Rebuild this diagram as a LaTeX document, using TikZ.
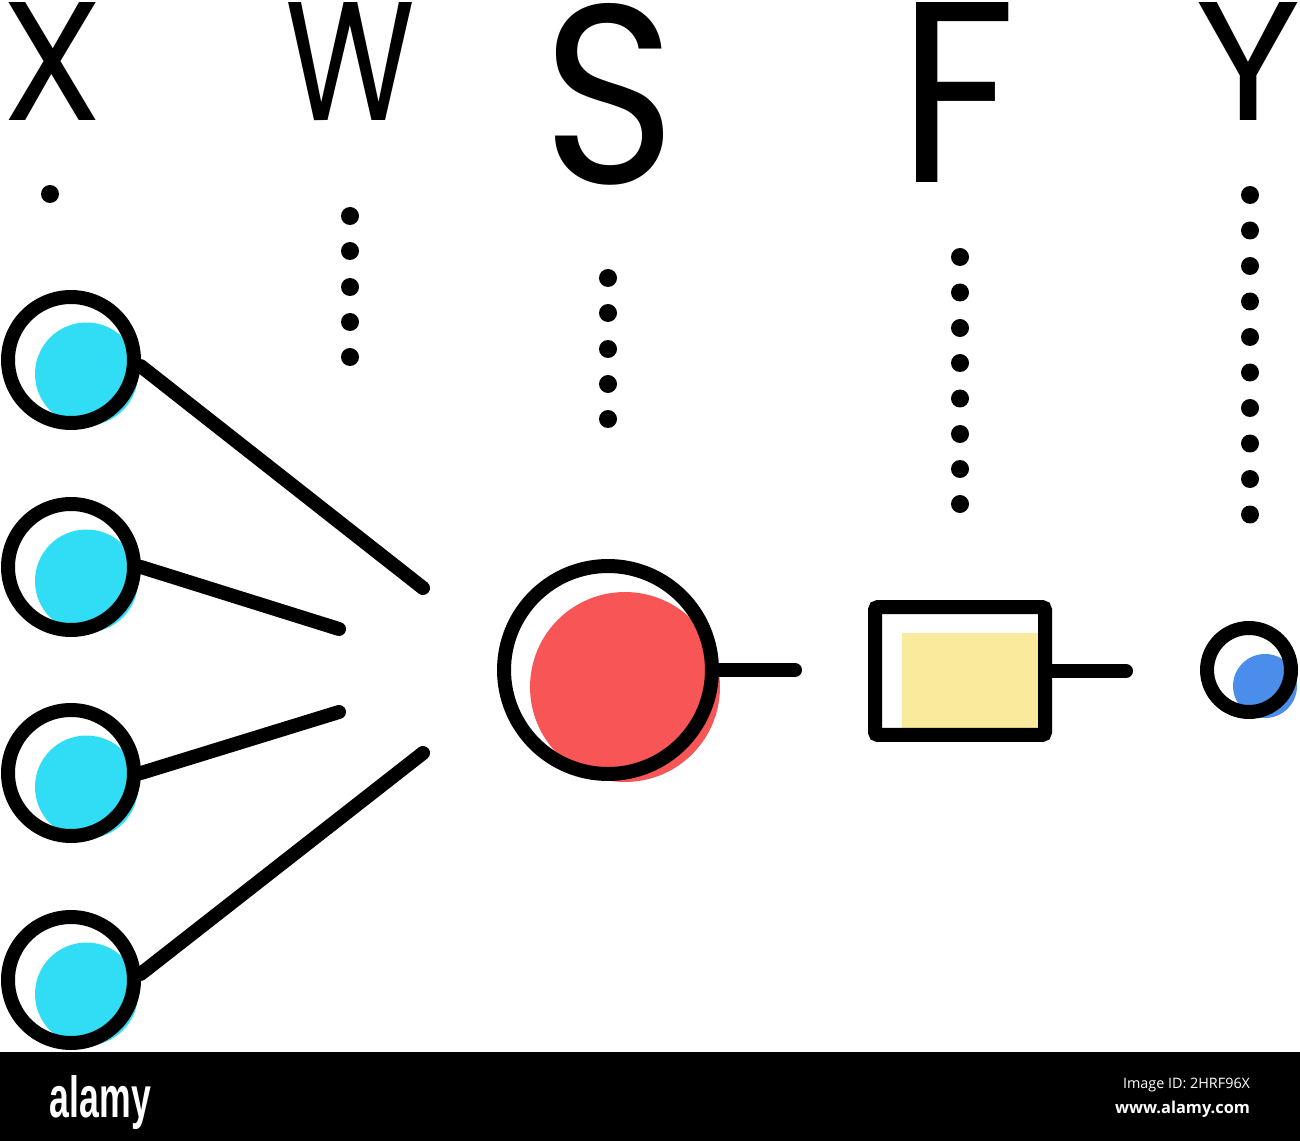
\documentclass[tikz,border=0pt]{standalone}
\usepackage{fontspec}
\usepackage{graphicx}
\newfontfamily\lab{Poppins}
\newfontfamily\wmsans{Open Sans}
\newfontfamily\logofont{Liberation Sans}
\definecolor{cyanc}{HTML}{30DDF5}
\definecolor{redc}{HTML}{F85656}
\definecolor{yellowc}{HTML}{FAEA9B}
\definecolor{bluec}{HTML}{4A8DEA}
\tikzset{
  ink/.style={line width=0.28cm, line cap=round, line join=round},
  dotmark/.style={circle, fill=black, inner sep=0pt, minimum size=0.36cm},
  ring/.style={circle, draw=black, line width=0.28cm, inner sep=0pt},
  blob/.style={circle, inner sep=0pt},
  letter/.style={anchor=north west, inner sep=0pt, outer sep=0pt},
  wmtext/.style={text=white, inner sep=0pt, outer sep=0pt}
}
\begin{document}
\begin{tikzpicture}[x=0.02cm, y=-0.02cm]
\useasboundingbox (0,0) rectangle (1300,1141);

% letters
\node[letter] (lx) at (1,3) {\resizebox{2.04cm}{2.36cm}{\lab X}};
\node[letter] (lw) at (285,3) {\resizebox{2.6cm}{2.36cm}{\lab W}};
\node[letter] (ls) at (542,3) {\resizebox{2.68cm}{3.6cm}{\lab S}};
\node[letter] (lf) at (898,3) {\resizebox{2.36cm}{3.6cm}{\lab F}};
\node[letter] (ly) at (1195,3) {\resizebox{2.12cm}{2.36cm}{\lab Y}};

% dotted columns
\node[dotmark] (dx1) at (50,194) {};
\foreach \i/\yy in {1/216,2/251,3/287,4/322,5/357}
  \node[dotmark] (dw\i) at (350,\yy) {};
\foreach \i/\yy in {1/278,2/313,3/349,4/384,5/419}
  \node[dotmark] (ds\i) at (608,\yy) {};
\foreach \i/\yy in {1/257,2/292.5,3/328,4/363,5/398.5,6/434,7/469,8/504}
  \node[dotmark] (df\i) at (960,\yy) {};
\foreach \i/\yy in {1/195,2/230.5,3/266,4/301.5,5/337,6/372.5,7/408,8/443.5,9/479,10/514.5}
  \node[dotmark] (dy\i) at (1250,\yy) {};

% input neurons
\foreach \i/\yy in {1/360,2/567,3/773,4/980}{
  \node[blob, fill=cyanc, minimum size=2.06cm] (cf\i) at (86.5,\yy+14) {};
  \node[ring, minimum size=2.52cm] (in\i) at (71,\yy) {};
}

% connector ends
\coordinate (e1) at (423,588);
\coordinate (e2) at (339,629);
\coordinate (e3) at (339,712);
\coordinate (e4) at (423,753);
\draw[ink] (in1.-5) -- (e1);
\draw[ink] (in2.0) -- (e2);
\draw[ink] (in3.0) -- (e3);
\draw[ink] (in4.5) -- (e4);

% summation neuron
\node[blob, fill=redc, minimum size=3.8cm] (rf) at (625,687) {};
\node[ring, minimum size=4.16cm] (sum) at (608,670) {};
\coordinate (e5) at (795,670);
\draw[ink] (sum) -- (e5);

% activation box
\node[rectangle, fill=yellowc, inner sep=0pt, minimum width=2.76cm, minimum height=1.94cm] (yf) at (971,681.5) {};
\node[rectangle, draw=black, line width=0.28cm, rounded corners=0.06cm, inner sep=0pt, minimum width=3.4cm, minimum height=2.56cm] (act) at (960,671) {};
\coordinate (e6) at (1126,671);
\draw[ink] (act) -- (e6);

% output
\node[blob, fill=bluec, minimum size=1.28cm] (bf) at (1265,686) {};
\node[ring, minimum size=1.68cm] (out) at (1249,670) {};

% banner
\fill[black] (0,1052) rectangle (1300,1141);
\node[wmtext, anchor=north west] (logo) at (50,1075) {\resizebox{2.02cm}{0.84cm}{\logofont\bfseries alamy}};
\node[wmtext, anchor=base east] (imgid) at (1250,1088) {\resizebox{2.54cm}{!}{\wmsans Image ID: 2HRF96X}};
\node[wmtext, anchor=base east] (www) at (1250,1113) {\resizebox{2.7cm}{!}{\wmsans\bfseries www.alamy.com}};
\end{tikzpicture}
\end{document}
